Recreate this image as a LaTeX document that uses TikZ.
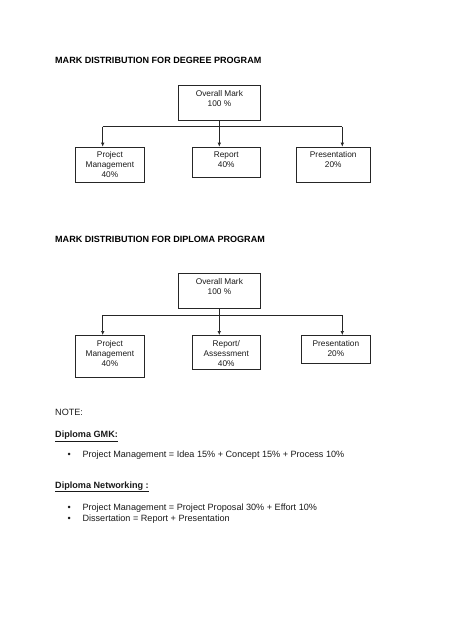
\documentclass[tikz,border=0pt]{standalone}
\usepackage{fontspec}
\setmainfont{Liberation Sans}
\usetikzlibrary{arrows.meta}
\begin{document}
\begin{tikzpicture}[x=1pt,y=-1pt,
  boxshape/.style={draw=black!85,line width=0.8pt,inner sep=0pt,anchor=north west},
  boxtext/.style={anchor=north,inner sep=0pt,align=center,font=\fontsize{8.3}{10}\selectfont,text=black!90},
  title/.style={anchor=base west,inner sep=0pt,font=\fontsize{9.05}{11}\selectfont\bfseries},
  body/.style={anchor=base west,inner sep=0pt,font=\fontsize{9.1}{11}\selectfont,text=black!90},
  conn/.style={line width=0.7pt,draw=black!85},
  arr/.style={conn,-{Latex[length=4pt,width=3.6pt]}}]
\useasboundingbox (0,0) rectangle (453,640);
\newcommand{\st}{\rule{0pt}{8pt}}

% ---------------- Degree ----------------
\node[title] (t1) at (55,63.3) {MARK DISTRIBUTION FOR DEGREE PROGRAM};

\node[boxshape,minimum width=82pt,minimum height=35pt] (ov1) at (178,85.3) {};
\node[boxtext] (ov1t) at ([yshift=-3pt]ov1.north) {\st Overall Mark\\100 \%};

\node[boxshape,minimum width=69pt,minimum height=35pt] (pm1) at (75,146.7) {};
\node[boxtext] (pm1t) at ([yshift=-3pt]pm1.north) {\st Project\\Management\\40\%};

\node[boxshape,minimum width=68.3pt,minimum height=30pt] (rp1) at (191.7,146.7) {};
\node[boxtext] (rp1t) at ([yshift=-3pt]rp1.north) {\st Report\\40\%};

\node[boxshape,minimum width=74.3pt,minimum height=35pt] (pr1) at (295.7,146.7) {};
\node[boxtext] (pr1t) at ([yshift=-3pt]pr1.north) {\st Presentation\\20\%};

\coordinate (bl1) at (102.7,126.7);
\coordinate (bm1) at (219.3,126.7);
\coordinate (br1) at (342.3,126.7);
\draw[conn] (bl1) -- (br1);
\draw[conn] (bm1 |- ov1.south) -- (bm1);
\draw[arr] (bl1) -- (bl1 |- pm1.north);
\draw[arr] (bm1) -- (bm1 |- rp1.north);
\draw[arr] (br1) -- (br1 |- pr1.north);

% ---------------- Diploma ----------------
\node[title] (t2) at (55,242.3) {MARK DISTRIBUTION FOR DIPLOMA PROGRAM};

\node[boxshape,minimum width=82pt,minimum height=35pt] (ov2) at (178,273.3) {};
\node[boxtext] (ov2t) at ([yshift=-3pt]ov2.north) {\st Overall Mark\\100 \%};

\node[boxshape,minimum width=69pt,minimum height=41.7pt] (pm2) at (75,335) {};
\node[boxtext] (pm2t) at ([yshift=-3pt]pm2.north) {\st Project\\Management\\40\%};

\node[boxshape,minimum width=68.3pt,minimum height=34.3pt] (rp2) at (191.7,335) {};
\node[boxtext] (rp2t) at ([yshift=-3pt]rp2.north) {\st Report/\\Assessment\\40\%};

\node[boxshape,minimum width=69pt,minimum height=28.3pt] (pr2) at (301,335) {};
\node[boxtext] (pr2t) at ([yshift=-3pt]pr2.north) {\st Presentation\\20\%};

\coordinate (bl2) at (102.7,315);
\coordinate (bm2) at (219.3,315);
\coordinate (br2) at (342.3,315);
\draw[conn] (bl2) -- (br2);
\draw[conn] (bm2 |- ov2.south) -- (bm2);
\draw[arr] (bl2) -- (bl2 |- pm2.north);
\draw[arr] (bm2) -- (bm2 |- rp2.north);
\draw[arr] (br2) -- (br2 |- pr2.north);

% ---------------- Notes ----------------
\node[body] (note) at (55,415.5) {NOTE:};
\node[body,font=\fontsize{9.1}{11}\selectfont\bfseries] (gmk) at (55,437.5) {\underline{Diploma GMK:}};
\node[body] (b1) at (67.5,457) {•};
\node[body] (l1) at (82.3,457) {Project Management = Idea 15\% + Concept 15\% + Process 10\%};
\node[body,font=\fontsize{9.1}{11}\selectfont\bfseries] (net) at (55,488) {\underline{Diploma Networking :}};
\node[body] (b2) at (67.5,510) {•};
\node[body] (l2) at (82.3,510) {Project Management = Project Proposal 30\% + Effort 10\%};
\node[body] (b3) at (67.5,521.5) {•};
\node[body] (l3) at (82.3,521.5) {Dissertation = Report + Presentation};
\end{tikzpicture}
\end{document}
